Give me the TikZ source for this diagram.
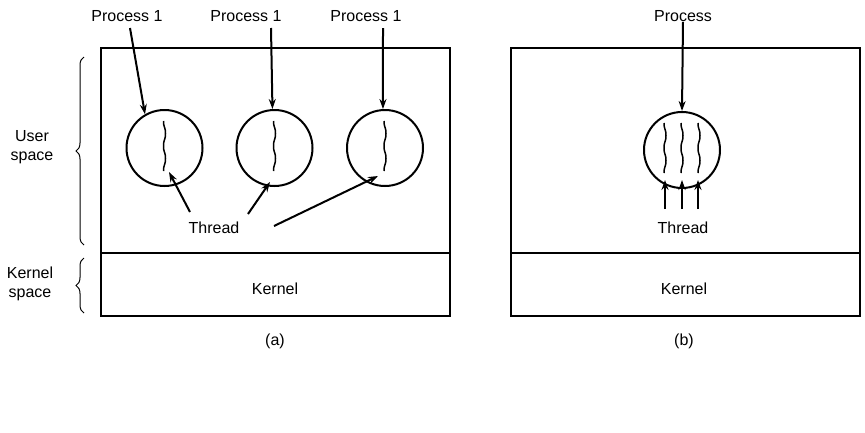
\documentclass[tikz,border=0pt]{standalone}
\usepackage{fontspec}
\setmainfont{Liberation Sans}
\usetikzlibrary{decorations.pathreplacing,arrows.meta}
\begin{document}
\begin{tikzpicture}[x=1pt,y=-1pt,
  lbl/.style={font=\fontsize{16}{19}\selectfont,inner sep=0pt},
  arr/.style={-{Stealth[length=10pt,width=7pt]},line width=2pt},
  box/.style={line width=2pt},
  proc/.style={circle,draw,line width=2pt,minimum size=76pt,inner sep=0pt},
  brc/.style={decorate,decoration={brace,amplitude=8pt},line width=1pt}]
\useasboundingbox (0,0) rectangle (865,432);
\newcommand\squig[2]{\draw[line width=1.5pt] (#1-1,#2-25) .. controls +(0,7) and +(0,-7) .. (#1+1,#2-12.5) .. controls +(0,7) and +(0,-7) .. (#1-1,#2) .. controls +(0,7) and +(0,-7) .. (#1+1,#2+12.5) .. controls +(0,7) and +(0,-7) .. (#1-1,#2+25);}
\draw[box] (101,48) rectangle (450,316);
\draw[box] (101,253) -- (450,253);
\draw[box] (511,48) rectangle (860,316);
\draw[box] (511,253) -- (860,253);
\node[proc] (c1) at (164.5,148) {};
\node[proc] (c2) at (274.5,148) {};
\node[proc] (c3) at (385,148) {};
\node[proc] (c4) at (682,150) {};
\squig{164.5}{146}\squig{274.5}{146}\squig{385}{146}
\squig{665}{148}\squig{682}{148}\squig{699}{148}
\node[lbl] (p1) at (127,16) {Process 1};
\node[lbl] (p2) at (246,16) {Process 1};
\node[lbl] (p3) at (366,16) {Process 1};
\node[lbl] (p4) at (683,16) {Process};
\coordinate (t1) at (169,172);
\coordinate (t2) at (270,182);
\coordinate (t3) at (378,176);
\draw[arr] (130,28) -- (c1.120);
\draw[arr] (271,28) -- (c2.93);
\draw[arr] (383,28) -- (c3.93);
\draw[arr] (p4.south) -- (c4.north);
\node[lbl] (th) at (214,228) {Thread};
\draw[arr] (190,212) -- (t1);
\draw[arr] (248,214) -- (t2);
\draw[arr] (274,226) -- (t3);
\node[lbl] (th2) at (683,228) {Thread};
\foreach \xx in {665,682,698} \draw[arr] (\xx,209) -- (\xx,180);
\node[lbl] (k1) at (275,289) {Kernel};
\node[lbl] (k2) at (684,289) {Kernel};
\node[lbl] (a) at (275,341) {(a)};
\node[lbl] (b) at (684,341) {(b)};
\node[lbl,align=center] (us) at (32,147) {User\\space};
\node[lbl,align=center] (ks) at (30,284) {Kernel\\space};
\draw[brc] (84,245) -- (84,57);
\draw[brc] (84,313) -- (84,258);
\end{tikzpicture}
\end{document}
